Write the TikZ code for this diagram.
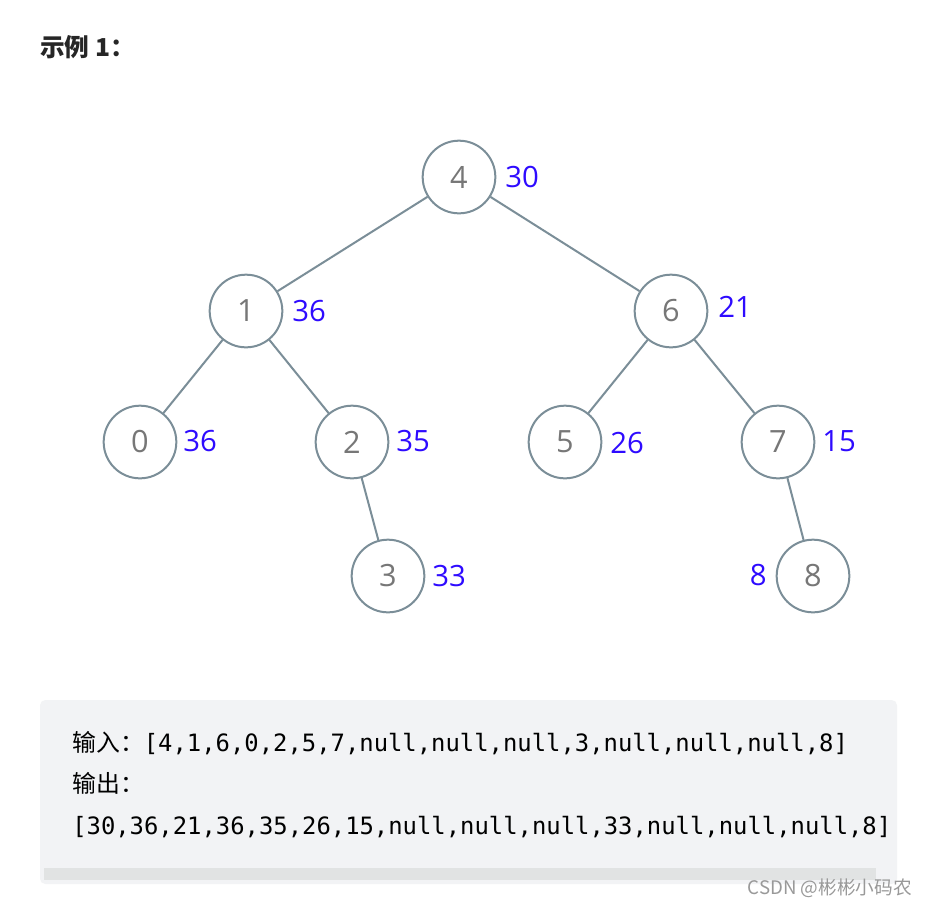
\documentclass[tikz,border=0pt]{standalone}
\usepackage{fontspec}
\setmainfont{Open Sans}
\setmonofont{DejaVu Sans Mono}
\newfontfamily\cjk{Noto Sans CJK SC}
\definecolor{edgegray}{HTML}{7B8E98}
\definecolor{valblue}{HTML}{2E0BFF}
\definecolor{digitgray}{HTML}{777777}
\definecolor{codebg}{HTML}{F2F3F5}
\definecolor{barbg}{HTML}{E1E3E3}

\begin{document}
\begin{tikzpicture}[x=0.75pt, y=-0.75pt,
  tn/.style={circle, draw=edgegray, line width=1.5pt, fill=white, minimum size=54.5pt, inner sep=0pt,
    text=digitgray, font=\fontsize{23}{23}\selectfont},
  val/.style={inner sep=0pt, text=valblue, font=\fontsize{22}{22}\selectfont},
  codeline/.style={anchor=base west, inner sep=0pt, font=\ttfamily\fontsize{17.9}{20}\selectfont}]
  \useasboundingbox[fill=white] (0,0) rectangle (927,908);

  % title
  \node[anchor=base west, inner sep=0pt, font=\cjk\bfseries\fontsize{18.5}{20}\selectfont, text=black!85] (title) at (40,56) {示例 1：};

  % tree
  \node[tn] (n4) at (459,177) {4};
  \node[tn] (n1) at (246,311) {1};
  \node[tn] (n6) at (671,311) {6};
  \node[tn] (n0) at (140,442) {0};
  \node[tn] (n2) at (352,442) {2};
  \node[tn] (n5) at (565,442) {5};
  \node[tn] (n7) at (778,442) {7};
  \node[tn] (n3) at (388,576) {3};
  \node[tn] (n8) at (813,576) {8};

  \begin{scope}[edgegray, line width=1.5pt]
    \draw (n4) -- (n1); \draw (n4) -- (n6);
    \draw (n1) -- (n0); \draw (n1) -- (n2);
    \draw (n6) -- (n5); \draw (n6) -- (n7);
    \draw (n2) -- (n3); \draw (n7) -- (n8);
  \end{scope}

  % sums
  \node[val, anchor=west] (v4) at (505,177) {30};
  \node[val, anchor=west] (v1) at (292,311) {36};
  \node[val, anchor=west] (v6) at (718,307) {21};
  \node[val, anchor=west] (v0) at (183,441) {36};
  \node[val, anchor=west] (v2) at (396,441) {35};
  \node[val, anchor=west] (v5) at (610,443) {26};
  \node[val, anchor=west] (v7) at (822,441) {15};
  \node[val, anchor=west] (v3) at (432,576) {33};
  \node[val, anchor=east] (v8) at (767,575) {8};

  % code box
  \fill[codebg, rounded corners=4pt] (40,700) rectangle (897,884);
  \fill[barbg] (44,868) rectangle (876,880);
  \node[codeline] (in) at (72,751) {{\cjk 输入：}[4,1,6,0,2,5,7,null,null,null,3,null,null,null,8]};
  \node[codeline] (outl) at (72,792) {{\cjk 输出：}};
  \node[codeline] (out) at (72,834) {[30,36,21,36,35,26,15,null,null,null,33,null,null,null,8]};

  % watermark
  \node[anchor=base east, inner sep=0pt, text=black!40, font=\cjk\fontsize{14}{14}\selectfont] (wm) at (912,894) {CSDN @彬彬小码农};
\end{tikzpicture}
\end{document}
